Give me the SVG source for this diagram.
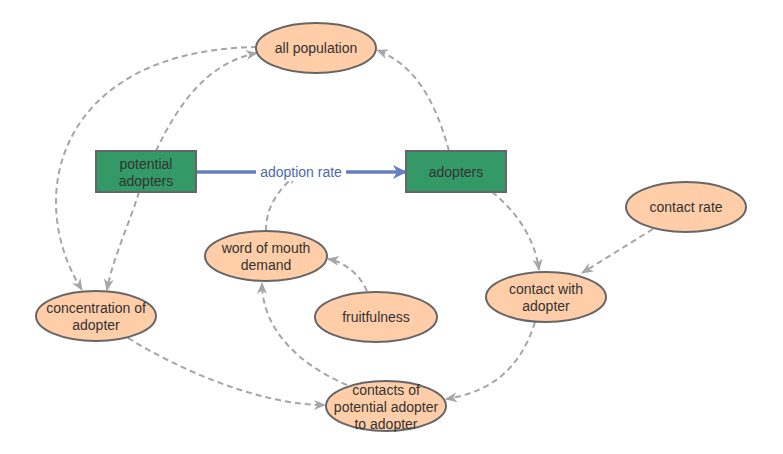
<svg xmlns="http://www.w3.org/2000/svg" width="783" height="454" viewBox="0 0 783 454">
<defs>
<style>
.e{fill:#ffcea8;stroke:#666;stroke-width:2}
.r{fill:#339966;stroke:#666;stroke-width:2}
.t{font-family:"Liberation Sans",Arial,sans-serif;font-size:14px;fill:#333;text-anchor:middle}
.c{fill:none;stroke:#a6a6a6;stroke-width:2;stroke-dasharray:6 4;marker-end:url(#ah)}
.flow{fill:none;stroke:#6680bd;stroke-width:3.5;marker-end:url(#bh)}
.fl{font-family:"Liberation Sans",Arial,sans-serif;font-size:14px;fill:#4d6aa8;text-anchor:middle}
</style>
<marker id="ah" viewBox="0 0 12 12" refX="11" refY="6" markerWidth="12" markerHeight="12" markerUnits="userSpaceOnUse" orient="auto">
<path d="M0,1 L12,6 L0,11 L3.5,6 z" fill="#a6a6a6"/>
</marker>
<marker id="bh" viewBox="0 0 14 14" refX="13" refY="7" markerWidth="14" markerHeight="14" markerUnits="userSpaceOnUse" orient="auto">
<path d="M0,0 L14,7 L0,14 L4,7 z" fill="#6680bd"/>
</marker>
</defs>
<rect width="783" height="454" fill="#fff"/>
<g id="connectors">
<path class="c" d="M257,47 C60,50 22,195 82,290"/>
<path class="c" d="M156,151 C180,100 210,62 257,53"/>
<path class="c" d="M139,192 C130,222 112,260 107,290"/>
<path class="c" d="M449,151 C435,100 415,65 377,50"/>
<path class="c" d="M492,192 C515,210 535,238 539,270"/>
<path class="c" d="M653,229 L582,273"/>
<path class="c" d="M535,322 C520,370 490,392 446,399"/>
<path class="c" d="M128,338 C180,370 260,405 325,405"/>
<path class="c" d="M347,385 C300,365 262,330 262,283"/>
<path class="c" d="M367,291 C360,275 345,262 328,259"/>
<path class="c" d="M266,231 C266,205 280,188 297,174"/>
<path class="flow" d="M197,172 L406,172"/>
<rect x="256" y="163" width="90" height="18" fill="#fff"/>
<text class="fl" x="301" y="177">adoption rate</text>
</g>
<g id="all-population">
<ellipse class="e" cx="316" cy="48" rx="60" ry="25"/>
<text class="t" x="316" y="53">all population</text>
</g>
<g id="potential-adopters">
<rect class="r" x="96" y="151" width="100" height="41"/>
<text class="t" x="146" y="168.5">potential</text>
<text class="t" x="146" y="185.5">adopters</text>
</g>
<g id="adopters">
<rect class="r" x="406" y="151" width="100" height="41"/>
<text class="t" x="456" y="177">adopters</text>
</g>
<g id="contact-rate">
<ellipse class="e" cx="686" cy="207" rx="60" ry="25"/>
<text class="t" x="686" y="212">contact rate</text>
</g>
<g id="contact-with-adopter">
<ellipse class="e" cx="546" cy="297" rx="60" ry="25"/>
<text class="t" x="546" y="293.5">contact with</text>
<text class="t" x="546" y="310.5">adopter</text>
</g>
<g id="word-of-mouth-demand">
<ellipse class="e" cx="266" cy="256" rx="61" ry="25"/>
<text class="t" x="266" y="252.5">word of mouth</text>
<text class="t" x="266" y="269.5">demand</text>
</g>
<g id="fruitfulness">
<ellipse class="e" cx="376" cy="317" rx="61" ry="25"/>
<text class="t" x="376" y="322">fruitfulness</text>
</g>
<g id="concentration-of-adopter">
<ellipse class="e" cx="96" cy="316" rx="60" ry="25"/>
<text class="t" x="96" y="312.5">concentration of</text>
<text class="t" x="96" y="329.5">adopter</text>
</g>
<g id="contacts-of-potential-adopter">
<ellipse class="e" cx="386" cy="406" rx="60" ry="25"/>
<text class="t" x="386" y="394.5">contacts of</text>
<text class="t" x="386" y="411.5">potential adopter</text>
<text class="t" x="386" y="428.5">to adopter</text>
</g>
</svg>
